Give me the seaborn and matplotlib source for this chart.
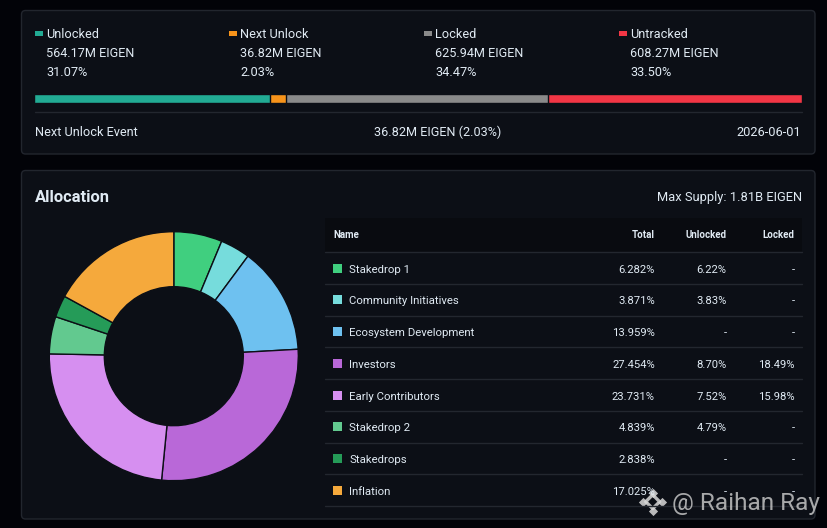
import numpy as np
import seaborn as sns
import matplotlib.pyplot as plt
from matplotlib.patches import FancyBboxPatch, Rectangle

# === data ===
status_names = ["Unlocked", "Next Unlock", "Locked", "Untracked"]
status_tokens = [564.17, 36.82, 625.94, 608.27]
status_pct = ["31.07%", "2.03%", "34.47%", "33.50%"]
status_colors = ["#22ab94", "#f7931a", "#8a8a8a", "#f23645"]

alloc_names = ["Stakedrop 1", "Community Initiatives", "Ecosystem Development", "Investors",
               "Early Contributors", "Stakedrop 2", "Stakedrops", "Inflation"]
alloc_total = [6.282, 3.871, 13.959, 27.454, 23.731, 4.839, 2.838, 17.025]
alloc_unlocked = ["6.22%", "3.83%", "-", "8.70%", "7.52%", "4.79%", "-", "-"]
alloc_locked = ["-", "-", "-", "18.49%", "15.98%", "-", "-", "-"]
alloc_colors = ["#40cf7f", "#76dcdc", "#6ec1f0", "#b968d8", "#d68ff0", "#62c98f", "#259b58", "#f5a93c"]

W, H = 828, 528
PAGE = "#020308"
CARD = "#0c0f16"
LINE = "#23272f"
TEXT = "#e0eaf3"

sns.set_theme(style="dark", rc={"figure.facecolor": PAGE, "axes.facecolor": "none"})
plt.rcParams["font.family"] = ["Roboto", "DejaVu Sans"]


def px_axes(x0, y0, x1, y1):
    return fig.add_axes([x0 / W, 1 - y1 / H, (x1 - x0) / W, (y1 - y0) / H])


fig = plt.figure(figsize=(W / 100, H / 100), dpi=100)

# page layer in pixel coordinates, everything but the marks goes here
ax = fig.add_axes([0, 0, 1, 1])
ax.set_xlim(0, W)
ax.set_ylim(H, 0)
ax.axis("off")

for y0, y1 in [(10.5, 154), (170.5, 519)]:
    ax.add_patch(FancyBboxPatch((21.5, y0), 793.5, y1 - y0, boxstyle="round,pad=0,rounding_size=4",
                                fc=CARD, ec="#22262e", lw=1))

# === top card ===
status_x = [35, 229, 424, 619]
for name, tok, pct, col, x in zip(status_names, status_tokens, status_pct, status_colors, status_x):
    ax.add_patch(Rectangle((x, 31), 8, 4.5, fc=col, ec="none"))
    ax.text(x + 11.5, 38, name, color=TEXT, fontsize=9.2, va="baseline")
    ax.text(x + 11, 57, f"{tok:.2f}M EIGEN", color=TEXT, fontsize=9.1, va="baseline")
    ax.text(x + 11, 76, pct, color=TEXT, fontsize=9.2, va="baseline")

# stacked bar, drawn longest first so each shorter one sits on top
bar_ax = px_axes(34.3, 94, 802.5, 103.5)
cum = np.cumsum(status_tokens)
for c, col in zip(cum[::-1], status_colors[::-1]):
    sns.barplot(x=[c], y=[0], orient="h", color=col, saturation=1, width=1,
                edgecolor=CARD, linewidth=1, ax=bar_ax)
bar_ax.set_xlim(0, cum[-1])
bar_ax.set_ylim(0.5, -0.5)
bar_ax.axis("off")

ax.plot([35, 802], [111.5, 111.5], color=LINE, lw=1)
ax.text(35, 136.5, "Next Unlock Event", color=TEXT, fontsize=9.2, va="baseline")
ax.text(438, 136.5, "36.82M EIGEN (2.03%)", color=TEXT, fontsize=9.1, va="baseline", ha="center")
ax.text(801, 136.5, "2026-06-01", color=TEXT, fontsize=9.2, va="baseline", ha="right")

# === allocation card ===
ax.text(35, 201.5, "Allocation", color=TEXT, fontsize=11.9, fontweight="bold", va="baseline")
ax.text(802, 201.5, "Max Supply: 1.81B EIGEN", color=TEXT, fontsize=9.3, va="baseline", ha="right")

# donut
cx, cy, r = 173.8, 356.2, 124.5
pie_ax = px_axes(cx - r, cy - r, cx + r, cy + r)
pie_ax.pie(alloc_total, colors=sns.color_palette(alloc_colors), startangle=90, counterclock=False,
           radius=1, wedgeprops={"width": 55 / 124.5, "edgecolor": CARD, "linewidth": 1})
pie_ax.set_xlim(-1, 1)
pie_ax.set_ylim(-1, 1)

# table
ax.add_patch(Rectangle((325, 218), 477, 34, fc="#090b10", ec="none"))
ax.text(333.5, 238, "Name", color=TEXT, fontsize=7, fontweight="semibold", va="baseline")
col_right = [655, 726.5, 794.5]
for x, label in zip(col_right, ["Total", "Unlocked", "Locked"]):
    ax.text(x, 238, label, color=TEXT, fontsize=7, fontweight="semibold", va="baseline", ha="right")

row_lines = [252.3, 284, 315.6, 347.3, 379.3, 411, 442.7, 474.3, 506.3]
for y in row_lines:
    ax.plot([325, 802], [y, y], color=LINE, lw=1)

for i, name in enumerate(alloc_names):
    y = (row_lines[i] + row_lines[i + 1]) / 2
    ax.add_patch(Rectangle((333, y - 4.5), 9, 9, fc=alloc_colors[i], ec="none"))
    ax.text(349.3, y + 4.5, name, color=TEXT, fontsize=8.2, va="baseline")
    ax.text(col_right[0], y + 4.5, f"{alloc_total[i]:.3f}%", color=TEXT, fontsize=8.1, va="baseline", ha="right")
    ax.text(col_right[1], y + 4.5, alloc_unlocked[i], color=TEXT, fontsize=8.1, va="baseline", ha="right")
    ax.text(col_right[2], y + 4.5, alloc_locked[i], color=TEXT, fontsize=8.1, va="baseline", ha="right")

# watermark
mark = "#d8d8d8"
ax.scatter([652.7, 652.7, 643.5, 661.9], [492.5, 511, 501.7, 501.7], marker="D", s=22, color=mark, alpha=0.85, lw=0)
ax.scatter([652.7], [501.7], marker="D", s=50, facecolor="none", edgecolor=mark, lw=2.4, alpha=0.85)
ax.text(672.5, 510, "@ Raihan Ray", color="#cfcfcf", alpha=0.8, fontsize=17.6, va="baseline")

fig.savefig("out.png", dpi=100, facecolor=PAGE)
plt.close(fig)
